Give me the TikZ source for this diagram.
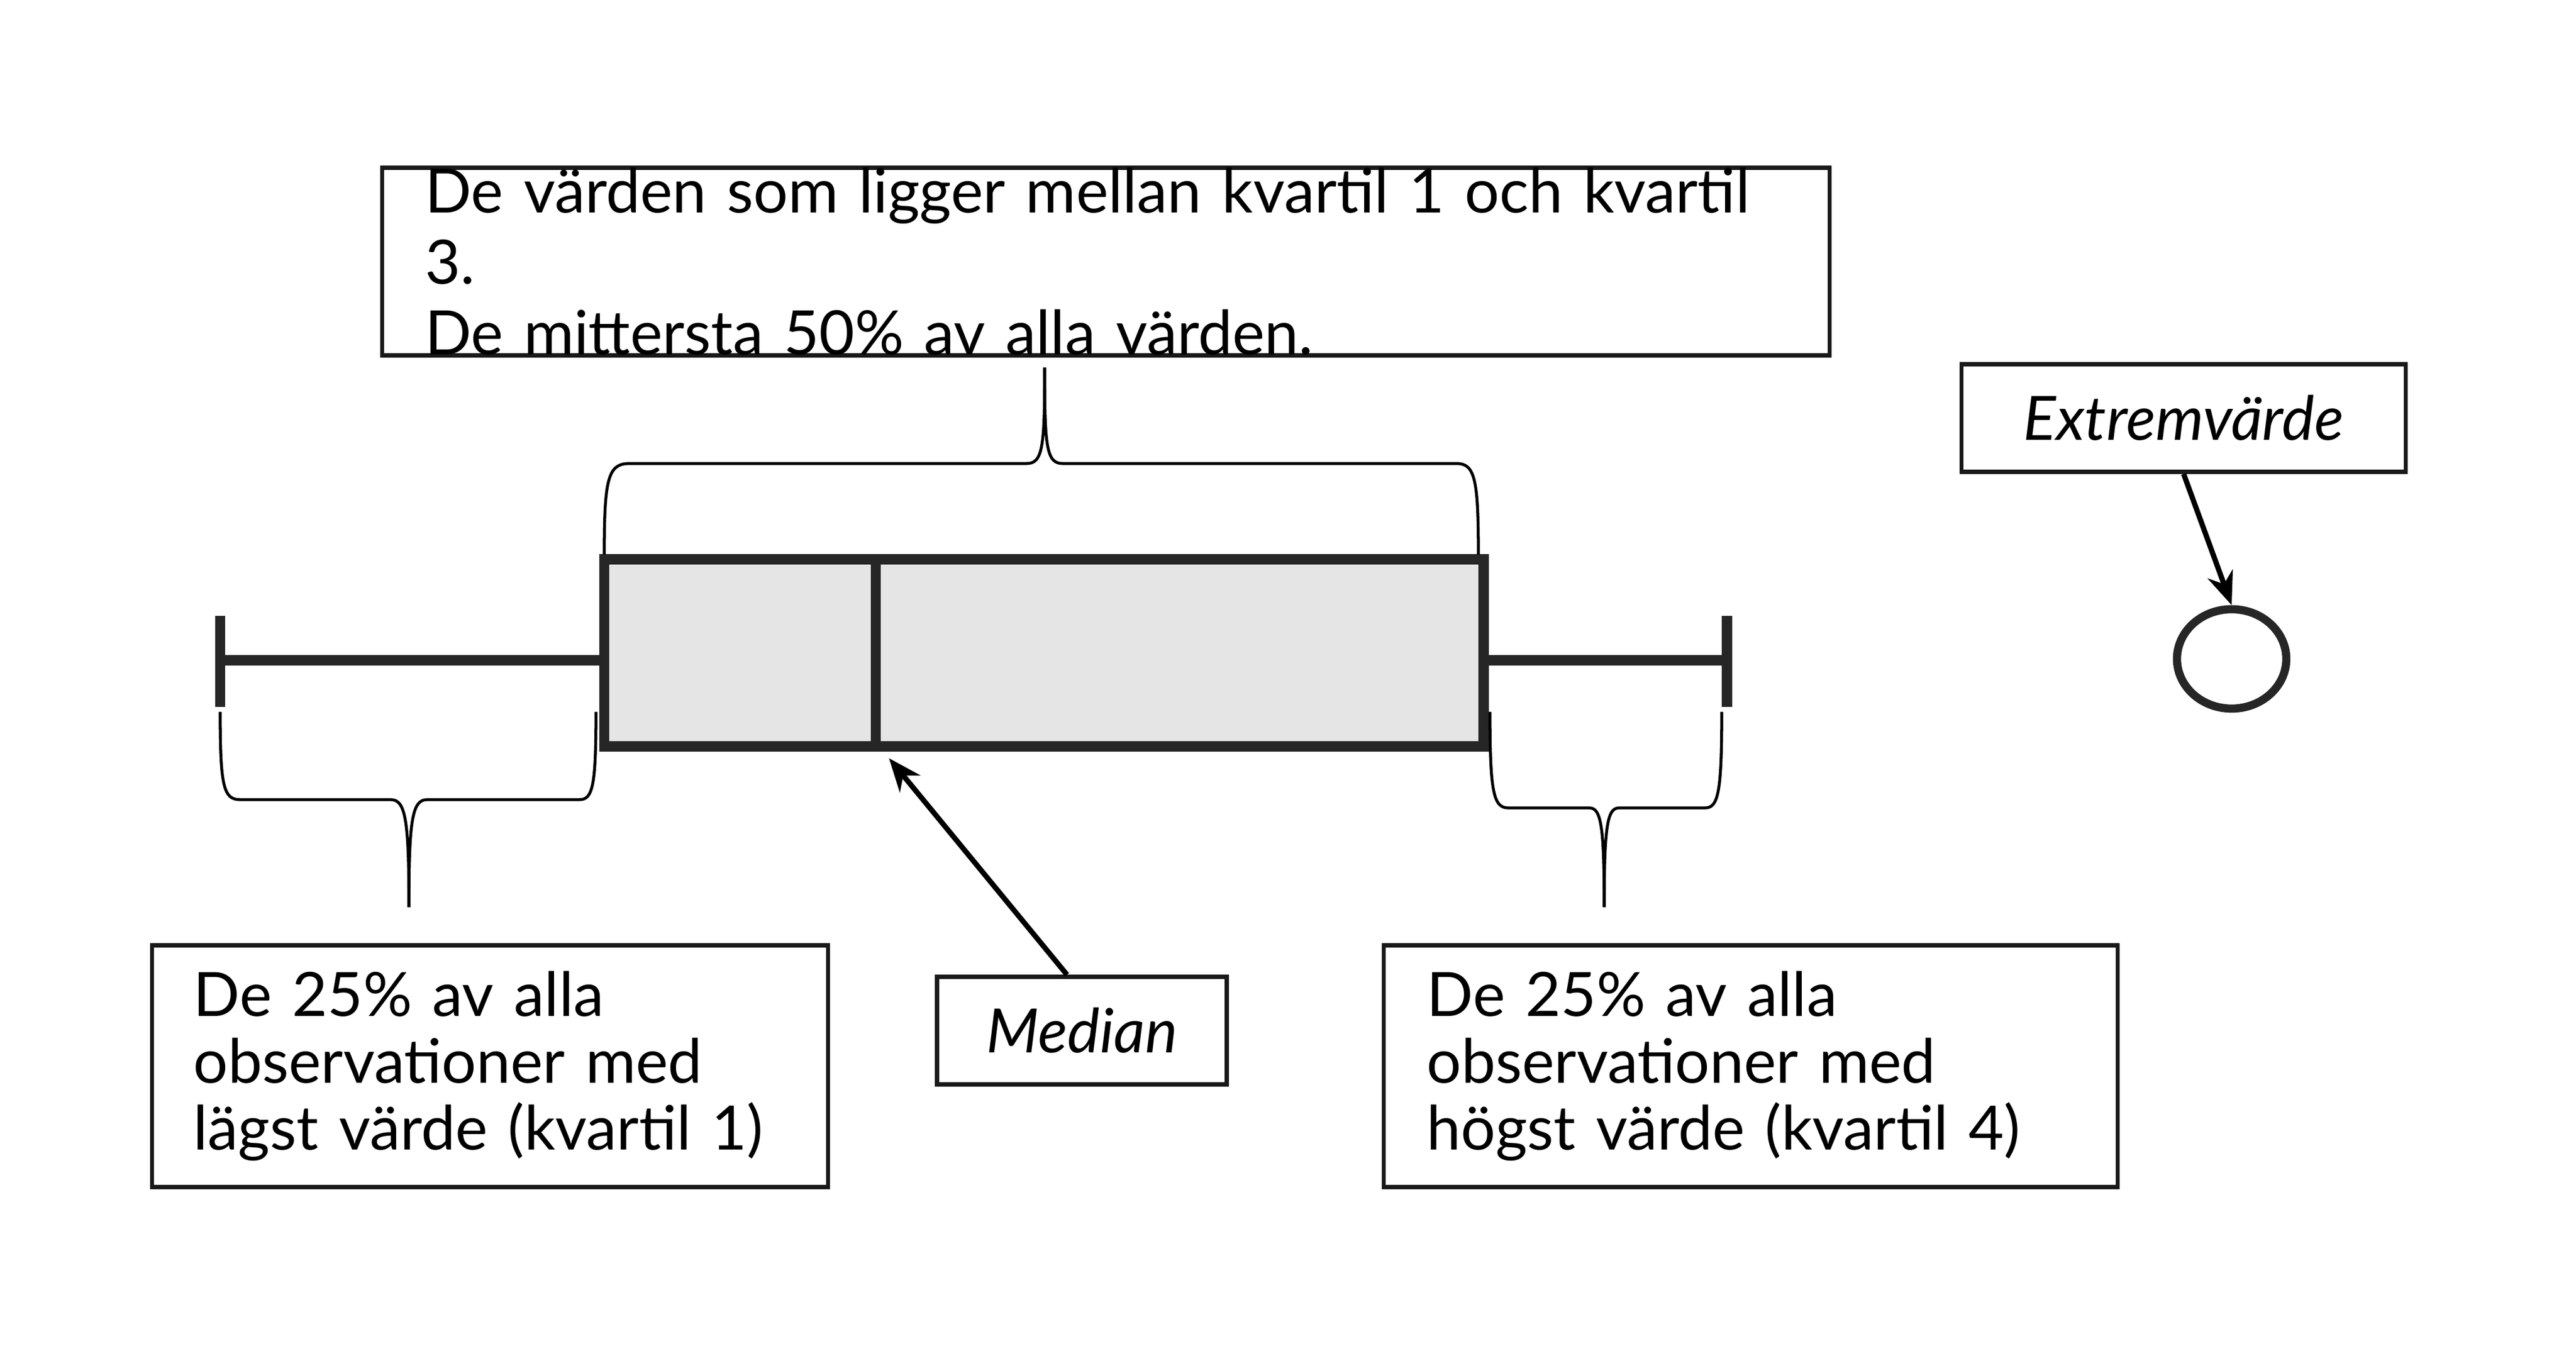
\documentclass[tikz,border=0pt]{standalone}
\usepackage{fontspec}
\setmainfont{Lato}
\usetikzlibrary{arrows.meta,shapes.geometric}
\tikzset{
  lbl/.style={draw=black!90,line width=0.7pt,align=left,inner sep=0pt,font=\fontsize{10.5}{12}\selectfont},
  brace/.style={line width=0.5pt},
  arr/.style={line width=0.9pt,-{Stealth[length=0.2cm,width=0.16cm]}},
  heavy/.style={line width=1.8pt,black!85}
}
\begin{document}
\begin{tikzpicture}[x=0.01cm,y=-0.01cm]
\useasboundingbox (0,0) rectangle (1556,813);
% boxes
\node[lbl,minimum width=8.74cm,minimum height=1.06cm,text width=8.22cm,font=\fontsize{10.5}{12.2}\selectfont] (top) at (668,158) {De värden som ligger mellan kvartil 1 och kvartil 3.\\De mittersta 50\% av alla värden.};
\node[lbl,minimum width=4.08cm,minimum height=1.46cm,text width=3.58cm,font=\fontsize{10.5}{11.5}\selectfont] (lq) at (296,644) {De 25\% av alla\\observationer med\\lägst värde (kvartil 1)};
\node[lbl,minimum width=4.43cm,minimum height=1.46cm,text width=3.91cm,font=\fontsize{10.5}{11.5}\selectfont] (hq) at (1057.5,644) {De 25\% av alla\\observationer med\\högst värde (kvartil 4)};
\node[lbl,align=center,minimum width=1.75cm,minimum height=0.65cm] (med) at (653.5,622.5) {\itshape Median};
\node[lbl,align=center,minimum width=2.68cm,minimum height=0.65cm] (ext) at (1319,252.5) {\itshape Extremvärde};
% box plot
\draw[heavy,fill=black!10] (365,338) rectangle (896,451);
\draw[heavy] (529,338) -- (529,451);
\draw[heavy] (133,399) -- (365,399);
\draw[heavy] (133,372) -- (133,427);
\draw[heavy] (896,399) -- (1043,399);
\draw[heavy] (1043,372) -- (1043,427);
\node[draw=black!85,line width=1.4pt,ellipse,minimum width=0.66cm,minimum height=0.6cm,inner sep=0pt] (out) at (1348,398) {};
\coordinate (medpt) at (537,458);
% braces
\draw[brace] (365,335) .. controls (365,290) and (367,280) .. (380,280) -- (620,280) .. controls (630,280) and (631,270) .. (631,222);
\draw[brace] (631,222) .. controls (631,270) and (632,280) .. (642,280) -- (880,280) .. controls (891,280) and (893,290) .. (893,335);
\draw[brace] (133,430) .. controls (133,475) and (135,483) .. (145,483) -- (236,483) .. controls (245,483) and (247,495) .. (247,548);
\draw[brace] (247,548) .. controls (247,495) and (249,483) .. (258,483) -- (350,483) .. controls (358,483) and (360,475) .. (360,430);
\draw[brace] (900,430) .. controls (900,478) and (902,488) .. (911,488) -- (960,488) .. controls (967,488) and (969,498) .. (969,548);
\draw[brace] (969,548) .. controls (969,498) and (971,488) .. (978,488) -- (1030,488) .. controls (1038,488) and (1040,478) .. (1040,430);
% arrows
\draw[arr] ([xshift=-0.09cm]med.north) -- (medpt);
\draw[arr] (ext.south) -- (out.north);
\end{tikzpicture}
\end{document}
